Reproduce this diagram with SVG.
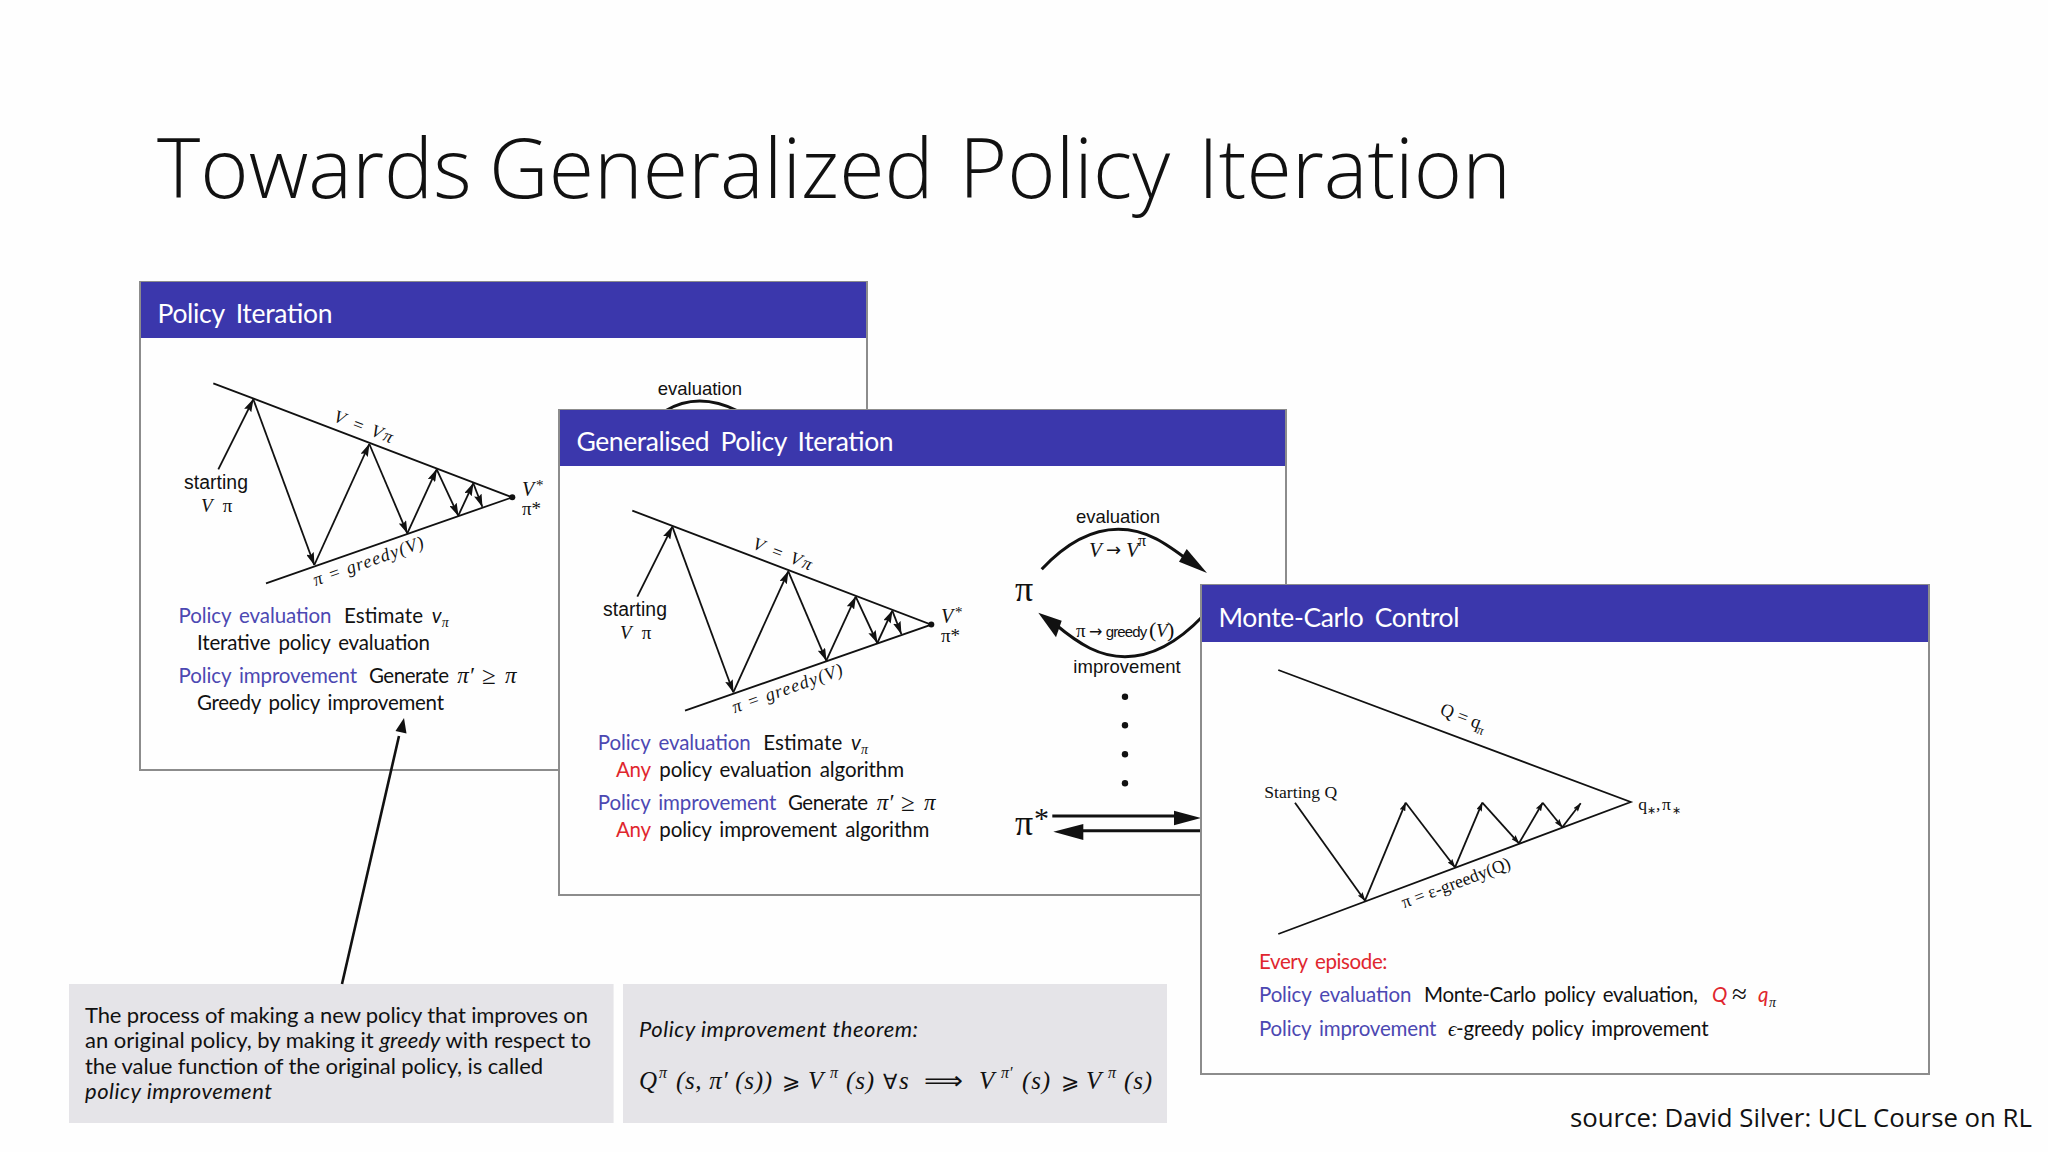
<svg xmlns="http://www.w3.org/2000/svg" width="2048" height="1152" viewBox="0 0 2048 1152">
<style>
.bg{fill:#fefefe}
.frame{fill:#fefefe;stroke:#8c8c8c;stroke-width:2}
.head{fill:#3b37ac}
.ttl{font-family:"Lato","Liberation Sans",sans-serif;font-size:26.5px;fill:#fff;word-spacing:5px}
.b{font-family:"Lato","Liberation Sans",sans-serif;font-size:20.5px;fill:#111;word-spacing:3px}
.blue{fill:#4c48b2}
.red{fill:#e0262e}
.m{font-family:"Liberation Serif",serif;font-style:italic;fill:#111}
.mr{font-family:"Liberation Serif",serif;fill:#111}
.a{font-family:"Liberation Sans",sans-serif;font-size:18.5px;fill:#111}
.ln{stroke:#111;stroke-width:1.8;fill:none}
.thick{stroke:#111;stroke-width:3;fill:none}
.tip{fill:#111}
.note{font-family:"Lato","Liberation Sans",sans-serif;font-size:22px;fill:#111}
.sym{font-family:"DejaVu Sans",sans-serif;fill:#111}
</style>
<defs>
<marker id="ah" markerUnits="userSpaceOnUse" markerWidth="13" markerHeight="8" viewBox="0 0 13 8" refX="12.5" refY="4" orient="auto"><path d="M0 0L13 4L0 8L2 4Z" fill="#111"/></marker>
<marker id="ahs" markerUnits="userSpaceOnUse" markerWidth="9" markerHeight="6" viewBox="0 0 9 6" refX="8.5" refY="3" orient="auto"><path d="M0 0L9 3L0 6L1.5 3Z" fill="#111"/></marker>
<g id="tri">
<path class="ln" d="M213.3 383.3L512.3 497.3L266 583.3"/>
<circle cx="512.3" cy="497.3" r="3" fill="#111"/>
<path class="ln" marker-end="url(#ah)" d="M218.3 469.3L253.3 399.3"/>
<path class="ln" marker-end="url(#ah)" d="M253.3 399.3L314.3 565"/>
<path class="ln" marker-end="url(#ah)" d="M314.3 565L369.3 444"/>
<path class="ln" marker-end="url(#ah)" d="M369.3 444L407.3 533.3"/>
<path class="ln" marker-end="url(#ah)" d="M407.3 533.3L436.7 469.3"/>
<path class="ln" marker-end="url(#ah)" d="M436.7 469.3L458.3 515.7"/>
<path class="ln" marker-end="url(#ah)" d="M458.3 515.7L473.3 483.3"/>
<path class="ln" marker-end="url(#ah)" d="M473.3 483.3L482.3 506.7"/>
</g>
</defs>
<rect class="bg" width="2048" height="1152"/>
<text id="title" y="198" font-family="'Open Sans','Liberation Sans',sans-serif" font-size="82.500" font-weight="300" fill="#111"><tspan x="157">Towards </tspan><tspan x="489">Generalized </tspan><tspan x="959">Policy </tspan><tspan x="1198">Iteration</tspan></text>

<g id="panel-policy-iteration">
<rect class="frame" x="140" y="282" width="727" height="488"/>
<rect class="head" x="141" y="282" width="725" height="56"/>
<text class="ttl" x="157.500" y="323" textLength="175">Policy Iteration</text>
<use href="#tri"/>
<text class="a" x="184" y="489" style="font-size:19.4px" textLength="64">starting</text>
<text class="m" x="201" y="511.7" font-size="19">V</text>
<text class="mr" x="222.7" y="511.7" font-size="19">π</text>
<text class="m" font-size="18" transform="translate(332.500 421) rotate(21)" textLength="62">V = Vπ</text>
<text class="m" font-size="18" transform="translate(315.500 586) rotate(-19.5)" textLength="116">π = greedy(V)</text>
<text class="m" x="522" y="496" font-size="20">V</text><text class="mr" x="536" y="490" font-size="15">*</text>
<text class="mr" x="522" y="515" font-size="19">π*</text>
<text class="b blue" x="178.500" y="622.7" textLength="153">Policy evaluation</text>
<text class="b" x="344" y="622.7" textLength="79">Estimate</text>
<text class="b" x="431.7" y="622.7" font-style="italic">v</text><text class="m" x="441.7" y="627" font-size="14">π</text>
<text class="b" x="197" y="650" textLength="233">Iterative policy evaluation</text>
<text class="b blue" x="178.500" y="682.7" textLength="178.500">Policy improvement</text>
<text class="b" x="369" y="682.7" textLength="80">Generate</text>
<text class="m" x="457.3" y="682.7" font-size="23">π′</text><text class="mr" x="482" y="683.500" font-size="25">≥</text><text class="m" x="505" y="682.7" font-size="23">π</text>
<text class="b" x="197" y="710" textLength="247">Greedy policy improvement</text>
<text class="a" x="657.7" y="395">evaluation</text>
<path class="thick" d="M665 411Q698 391 738 411"/>
</g>

<g id="panel-generalised-policy-iteration">
<rect class="frame" x="559" y="410" width="727" height="485"/>
<rect class="head" x="560" y="410" width="725" height="56"/>
<text class="ttl" x="576.500" y="451" textLength="317">Generalised Policy Iteration</text>
<use href="#tri" transform="translate(419 127.3)"/>
<text class="a" x="603" y="616.3" style="font-size:19.4px" textLength="64">starting</text>
<text class="m" x="620" y="639" font-size="19">V</text>
<text class="mr" x="641.7" y="639" font-size="19">π</text>
<text class="m" font-size="18" transform="translate(751.500 548.3) rotate(21)" textLength="62">V = Vπ</text>
<text class="m" font-size="18" transform="translate(734.500 713.3) rotate(-19.5)" textLength="116">π = greedy(V)</text>
<text class="m" x="941" y="623.3" font-size="20">V</text><text class="mr" x="955" y="617.3" font-size="15">*</text>
<text class="mr" x="941" y="642.3" font-size="19">π*</text>
<text class="b blue" x="597.800" y="750" textLength="153">Policy evaluation</text>
<text class="b" x="763.3" y="750" textLength="79">Estimate</text>
<text class="b" x="851" y="750" font-style="italic">v</text><text class="m" x="861" y="754.3" font-size="14">π</text>
<text class="b red" x="616" y="777.3" textLength="35">Any</text>
<text class="b" x="659.3" y="777.3" textLength="244.7">policy evaluation algorithm</text>
<text class="b blue" x="597.800" y="810" textLength="178.500">Policy improvement</text>
<text class="b" x="788" y="810" textLength="80">Generate</text>
<text class="m" x="876.7" y="810" font-size="23">π′</text><text class="mr" x="901" y="810.800" font-size="25">≥</text><text class="m" x="924" y="810" font-size="23">π</text>
<text class="b red" x="616" y="837.3" textLength="35">Any</text>
<text class="b" x="659.3" y="837.3" textLength="270">policy improvement algorithm</text>
<text class="a" x="1076" y="522.7" textLength="84">evaluation</text>
<path class="thick" d="M1041.7 569.3C1072 537 1098 529.3 1118.3 529.3C1148 529.3 1168 545 1192 563"/>
<path class="tip" d="M1207 573L1186.7 549L1179 561.7Z"/>
<text class="m" x="1089" y="557" font-size="21">V</text>
<text class="sym" x="1106" y="556" font-size="18">→</text>
<text class="m" x="1126" y="557" font-size="21">V</text>
<text class="mr" x="1138" y="546" font-size="16">π</text>
<text class="mr" x="1015" y="600.500" font-size="36">π</text>
<text class="m" x="1208" y="599" font-size="24" textLength="20" lengthAdjust="spacingAndGlyphs">V</text>
<path class="thick" d="M1203 616C1180 640 1155 656.7 1125 656.7C1100 656.7 1080 645 1055 624"/>
<path class="tip" d="M1038.3 612.7L1061.7 620.7L1056 637.3Z"/>
<text class="mr" x="1076" y="636.7" font-size="19">π</text>
<text class="sym" x="1089" y="636.7" font-size="16">→</text>
<text class="a" x="1105.7" y="636.7" style="font-size:15px" textLength="41.5">greedy</text>
<text class="mr" x="1149" y="636.7" font-size="22">(</text><text class="m" x="1156" y="636.7" font-size="19">V</text><text class="mr" x="1167" y="636.7" font-size="22">)</text>
<text class="a" x="1073.3" y="672.7" textLength="107.4">improvement</text>
<circle cx="1125" cy="696.7" r="3.2" fill="#111"/>
<circle cx="1125" cy="725.3" r="3.2" fill="#111"/>
<circle cx="1125" cy="754.3" r="3.2" fill="#111"/>
<circle cx="1125" cy="783.3" r="3.2" fill="#111"/>
<text class="mr" x="1015" y="835" font-size="36">π</text>
<text class="mr" x="1034" y="828" font-size="30">*</text>
<path class="thick" d="M1052.3 816H1176"/>
<path class="tip" d="M1201 818L1174 810.7V825.3Z"/>
<path class="thick" d="M1081 830.7H1201"/>
<path class="tip" d="M1053.3 831.7L1083.3 824V840Z"/>
</g>

<g id="panel-monte-carlo-control">
<rect class="frame" x="1201" y="585" width="728" height="489"/>
<rect class="head" x="1202" y="585" width="726" height="57"/>
<text class="ttl" x="1218.500" y="627" textLength="241">Monte-Carlo Control</text>
<path class="ln" d="M1278.3 670L1630.7 802L1278.3 934"/>
<path class="ln" marker-end="url(#ahs)" d="M1295 802.7L1365 900.7"/>
<path class="ln" marker-end="url(#ahs)" d="M1365 900.7L1405.7 802.7"/>
<path class="ln" marker-end="url(#ahs)" d="M1405.7 802.7L1455 867.3"/>
<path class="ln" marker-end="url(#ahs)" d="M1455 867.3L1482.3 802.7"/>
<path class="ln" marker-end="url(#ahs)" d="M1482.3 802.7L1519 843.3"/>
<path class="ln" marker-end="url(#ahs)" d="M1519 843.3L1542.7 802.7"/>
<path class="ln" marker-end="url(#ahs)" d="M1542.7 802.7L1562.3 827.3"/>
<path class="ln" marker-end="url(#ahs)" d="M1562.3 827.3L1580.7 803.3"/>
<text class="mr" x="1264.3" y="798.3" font-size="17.6" textLength="73">Starting Q</text>
<text class="mr" font-size="18.5" transform="translate(1439 714) rotate(21)">Q = q</text>
<text class="mr" font-size="13" transform="translate(1476 733) rotate(21)">π</text>
<text class="mr" font-size="17.6" transform="translate(1404 908.3) rotate(-20.5)" textLength="115">π = ε-greedy(Q)</text>
<text class="mr" x="1638.3" y="810" font-size="17.6">q</text><text class="sym" x="1647" y="814" font-size="11">∗</text><text class="mr" x="1656" y="810" font-size="17.6">,</text><text class="mr" x="1662" y="810" font-size="17.6">π</text><text class="sym" x="1672" y="814" font-size="11">∗</text>
<text class="b red" x="1259" y="969.300" textLength="128.5">Every episode:</text>
<text class="b blue" x="1259" y="1002.3" textLength="152.4">Policy evaluation</text>
<text class="b" x="1424" y="1002.3" textLength="274">Monte-Carlo policy evaluation,</text>
<text class="b red" x="1712" y="1002.3" font-style="italic">Q</text><text class="mr red" x="1732" y="1003" font-size="27">≈</text><text class="b red" x="1758" y="1002.3" font-style="italic">q</text><text class="m red" x="1769" y="1006.500" font-size="14">π</text>
<text class="b blue" x="1259" y="1035.7" textLength="177.4">Policy improvement</text>
<text class="m" x="1448" y="1035.7" font-size="21">ϵ</text>
<text class="b" x="1456" y="1035.7" textLength="252.6">-greedy policy improvement</text>
</g>

<g id="note-policy-improvement">
<rect x="69" y="984" width="544.6" height="139" fill="#e5e4e8"/>
<text class="note" x="85" y="1023" textLength="503">The process of making a new policy that improves on</text>
<text class="note" x="85" y="1048"><tspan>an original policy, by making it </tspan><tspan font-style="italic">greedy</tspan><tspan> with respect to</tspan></text>
<text class="note" x="85" y="1074" textLength="458">the value function of the original policy, is called</text>
<text class="note" x="85" y="1099" font-style="italic" textLength="187">policy improvement</text>
</g>

<g id="note-theorem">
<rect x="623" y="984" width="544" height="139" fill="#e5e4e8"/>
<text class="note" x="639" y="1037" font-style="italic" textLength="279">Policy improvement theorem:</text>
<text class="m" x="639" y="1089" font-size="25">Q</text><text class="m" x="659" y="1078" font-size="16">π</text>
<text class="m" x="676" y="1089" font-size="25" textLength="96">(s, π′ (s))</text>
<text class="sym" x="782" y="1089" font-size="22">⩾</text>
<text class="m" x="808" y="1089" font-size="25">V</text><text class="m" x="830" y="1078" font-size="16">π</text>
<text class="m" x="846" y="1089" font-size="25" textLength="28">(s)</text>
<text class="mr" x="883" y="1089" font-size="21">∀</text><text class="m" x="899" y="1089" font-size="25">s</text>
<text class="sym" x="924" y="1089" font-size="25" textLength="39" lengthAdjust="spacingAndGlyphs">⟹</text>
<text class="m" x="979" y="1089" font-size="25">V</text><text class="m" x="1001" y="1078" font-size="16">π′</text>
<text class="m" x="1022" y="1089" font-size="25" textLength="28">(s)</text>
<text class="sym" x="1061" y="1089" font-size="22">⩾</text>
<text class="m" x="1086" y="1089" font-size="25">V</text><text class="m" x="1108" y="1078" font-size="16">π</text>
<text class="m" x="1124" y="1089" font-size="25" textLength="28">(s)</text>
</g>

<text id="source" x="1570" y="1127" font-family="'Open Sans','Liberation Sans',sans-serif" font-size="26" fill="#111" textLength="462" lengthAdjust="spacingAndGlyphs">source: David Silver: UCL Course on RL</text>

<g id="connectors">
<path d="M342 984L399 736" stroke="#111" stroke-width="2.6" fill="none"/>
<path class="tip" d="M404 718L395.500 731L406.500 733.500Z"/>
</g>
</svg>
